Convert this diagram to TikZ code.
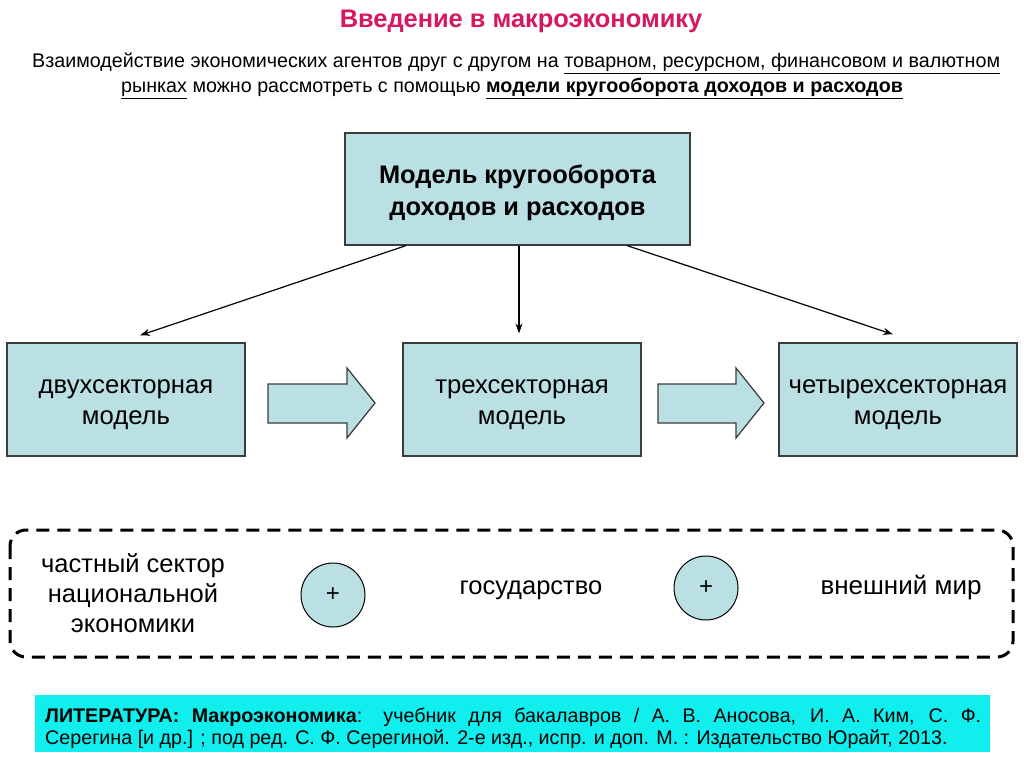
\documentclass[tikz,border=0pt]{standalone}
\usepackage{fontspec}
\setmainfont{Liberation Sans}
\usetikzlibrary{arrows.meta,calc}
\definecolor{boxfill}{RGB}{187,224,227}
\definecolor{boxline}{RGB}{60,60,60}
\definecolor{titlecol}{RGB}{214,24,96}
\definecolor{litfill}{RGB}{16,238,238}
\begin{document}
\begin{tikzpicture}[x=1pt,y=-1pt,
  box/.style={draw=boxline, line width=1.2pt, fill=boxfill, inner sep=0pt,
    minimum width=238pt, minimum height=113pt, align=center,
    font=\fontsize{25.7}{31}\selectfont},
  conn/.style={-{Stealth[length=10pt,width=7pt]}, line width=1.2pt, black},
  blockarrow/.style={draw=boxline, line width=1.2pt, fill=boxfill},
  plus/.style={circle, draw=black, line width=1pt, fill=boxfill, minimum size=64pt,
    inner sep=0pt, font=\fontsize{24}{24}\selectfont},
  part/.style={align=center, inner sep=0pt, font=\fontsize{25.5}{30}\selectfont},
  txt/.style={inner sep=0pt}]
\useasboundingbox (0,0) rectangle (1024,767);
\fill[white] (0,0) rectangle (1024,767);

% title
\node[txt, anchor=base, text=titlecol, font=\fontsize{25.4}{30}\selectfont\bfseries] (title) at (521,28) {Введение в макроэкономику};

% subtitle
\node[txt, anchor=base west, font=\fontsize{19.7}{25}\selectfont] (sub1) at (32,68)
  {Взаимодействие экономических агентов друг с другом на \underline{товарном, ресурсном, финансовом и валютном}};
\node[txt, anchor=base, font=\fontsize{19.7}{25}\selectfont] (sub2) at (512,93)
  {\underline{рынках} можно рассмотреть с помощью \underline{\textbf{модели кругооборота доходов и расходов}}};

% top box
\node[box, minimum width=345pt, minimum height=112pt, font=\fontsize{25.4}{32}\selectfont\bfseries] (top) at (517.5,189)
  {\rule{0pt}{26.5pt}Модель кругооборота\\ доходов и расходов};

% three model boxes
\node[box] (two) at (126,399.5) {\rule{0pt}{25pt}двухсекторная\\модель};
\node[box] (three) at (522,399.5) {\rule{0pt}{25pt}трехсекторная\\модель};
\node[box] (four) at (898,399.5) {\rule{0pt}{25pt}четырехсекторная\\модель};

% connectors
\draw[conn] ([xshift=-111.5pt]top.south) -- ([xshift=14pt,yshift=7pt]two.north);
\draw[conn] ([xshift=1.5pt]top.south) -- ([xshift=-3pt,yshift=9pt]three.north);
\draw[conn] ([xshift=109.5pt]top.south) -- ([xshift=-5pt,yshift=8pt]four.north);

% block arrows
\draw[blockarrow] (268,384) -- (347,384) -- (347,368) -- (375,403) -- (347,438) -- (347,423) -- (268,423) -- cycle;
\draw[blockarrow] (658,384) -- (736,384) -- (736,368) -- (764,403) -- (736,438) -- (736,423) -- (658,423) -- cycle;

% dashed frame
\draw[line width=3pt, dash pattern=on 13pt off 8pt, rounded corners=16pt] (10,530) rectangle (1013,657);

\node[part] (priv) at (133,593) {частный сектор\\национальной\\экономики};
\node[plus] (p1) at (333,595) {+};
\node[txt, anchor=base, font=\fontsize{25.5}{30}\selectfont] (gov) at (531,594) {государство};
\node[plus] (p2) at (706,588) {+};
\node[txt, anchor=base, font=\fontsize{26}{30}\selectfont] (world) at (901,594) {внешний мир};

% literature
\fill[litfill] (35,695) rectangle (990,752);
\node[txt, anchor=north west, text width=936pt, align=justify, font=\fontsize{19.7}{21.5}\selectfont] (lit) at (45,708)
  {\textbf{ЛИТЕРАТУРА: Макроэкономика}: учебник для бакалавров / А. В. Аносова, И. А. Ким, С. Ф.\linebreak Серегина [и др.] ; под ред. С. Ф. Серегиной. 2-е изд., испр. и доп. М. : Издательство Юрайт, 2013.};
\end{tikzpicture}
\end{document}
